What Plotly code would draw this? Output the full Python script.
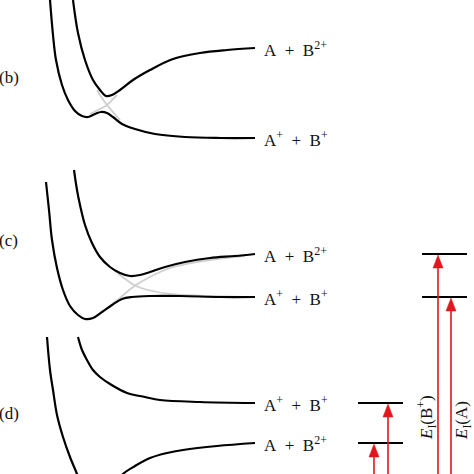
import plotly.graph_objects as go

# canvas units: x to the right, y downwards (energy grows upward on the page)
W = 474

# panel (b): adiabatic curves
b_inner_x = [73, 78, 85, 93, 100, 106, 112, 120, 133, 150, 173, 200, 227, 255]
b_inner_y = [0, 33, 60, 80, 90, 96, 95, 90, 80, 70, 59, 53, 50, 48]
b_outer_x = [50, 53, 56, 62, 68, 75, 82, 88, 95, 101, 107, 113, 122, 135, 155, 185, 220, 255]
b_outer_y = [0, 35, 60, 85, 100, 111, 116, 117, 114, 112, 113, 117, 124, 129, 134, 137, 138, 138]
# panel (b): diabatic (grey) crossing
b_grey1_x = [97, 102, 107, 113, 120]
b_grey1_y = [90, 98, 105, 112, 120]
b_grey2_x = [90, 98, 107, 113, 117]
b_grey2_y = [114, 110, 105, 99, 95]

# panel (c)
c_inner_x = [74, 77, 80, 85, 92, 100, 110, 120, 130, 140, 150, 165, 185, 210, 235, 255]
c_inner_y = [170, 190, 205, 225, 243, 257, 267, 273, 276, 275, 272, 267, 262, 258, 256, 254]
c_outer_x = [46, 49, 52, 57, 63, 70, 78, 85, 93, 102, 112, 122, 132, 150, 180, 220, 255]
c_outer_y = [182, 210, 240, 268, 290, 306, 315, 319, 318, 312, 305, 299, 297, 296, 296, 297, 297]
c_grey1_x = [112, 120, 128, 136, 148, 170, 210, 245]
c_grey1_y = [268, 275, 281, 286, 290, 294, 296, 297]
c_grey2_x = [112, 120, 128, 136, 148, 170, 210, 245]
c_grey2_y = [304, 298, 291, 285, 278, 268, 260, 256]

# panel (d)
d_inner_x = [78, 82, 87, 93, 100, 110, 127, 145, 160, 200, 255]
d_inner_y = [337, 350, 360, 370, 377, 384, 393, 397, 400, 402, 403]
d_outer_x = [47, 50, 53, 57, 63, 70, 77, 80]
d_outer_y = [337, 370, 390, 415, 437, 457, 474, 482]
d_lower_x = [118, 123, 135, 150, 167, 183, 217, 255]
d_lower_y = [482, 474, 466, 458, 453, 450, 446, 443]

# asymptote labels (y of the line they sit on)
asym_text = ["A\u2002+\u2002B<sup>2+</sup>", "A<sup>+</sup>\u2002+\u2002B<sup>+</sup>",
             "A\u2002+\u2002B<sup>2+</sup>", "A<sup>+</sup>\u2002+\u2002B<sup>+</sup>",
             "A<sup>+</sup>\u2002+\u2002B<sup>+</sup>", "A\u2002+\u2002B<sup>2+</sup>"]
asym_y = [48, 138, 254, 297, 403, 443]
panel_text = ["(b)", "(c)", "(d)"]
panel_y = [77, 240, 413]

# energy level diagrams on the right
levels_x0 = [422, 422, 358, 358]
levels_x1 = [467, 467, 403, 403]
levels_y = [254, 297, 403, 443]
arrow_x = [438, 451, 388, 374]
arrow_top = [254, 297, 403, 443]

BLACK = "#000000"
GREY = "#cfcfcf"
RED = "#e3161d"

fig = go.Figure()


def curve(x, y, color, width):
    fig.add_trace(go.Scatter(x=x, y=y, mode="lines", hoverinfo="skip",
                             line=dict(color=color, width=width, shape="spline", smoothing=1.0)))


for gx, gy in [(b_grey1_x, b_grey1_y), (b_grey2_x, b_grey2_y),
               (c_grey1_x, c_grey1_y), (c_grey2_x, c_grey2_y)]:
    curve(gx, gy, GREY, 1.8)
for kx, ky in [(b_inner_x, b_inner_y), (b_outer_x, b_outer_y),
               (c_inner_x, c_inner_y), (c_outer_x, c_outer_y),
               (d_inner_x, d_inner_y), (d_outer_x, d_outer_y), (d_lower_x, d_lower_y)]:
    curve(kx, ky, BLACK, 2.2)

for x0, x1, y in zip(levels_x0, levels_x1, levels_y):
    fig.add_trace(go.Scatter(x=[x0, x1], y=[y, y], mode="lines", hoverinfo="skip",
                             line=dict(color=BLACK, width=2)))

head_w, head_l = 5, 13
for x, top in zip(arrow_x, arrow_top):
    tip = top + 1
    fig.add_trace(go.Scatter(x=[x, x], y=[W + 5, tip + 5], mode="lines", hoverinfo="skip",
                             line=dict(color=RED, width=1.6)))
    fig.add_trace(go.Scatter(x=[x - head_w, x + head_w, x, x - head_w],
                             y=[tip + head_l, tip + head_l, tip, tip + head_l],
                             mode="lines", fill="toself", fillcolor=RED, hoverinfo="skip",
                             line=dict(color=RED, width=0.5)))

font = dict(family="Liberation Serif, DejaVu Serif, serif", size=17, color="#111111")
for t, y in zip(asym_text, asym_y):
    fig.add_annotation(x=262, y=y + 1, text=t, showarrow=False, xanchor="left",
                       yanchor="middle", font=font)
for t, y in zip(panel_text, panel_y):
    fig.add_annotation(x=0, y=y, text=t, showarrow=False, xanchor="left",
                       yanchor="middle", font=font, xshift=-3)
fig.add_annotation(x=426, y=418, text="<i>E</i><sub>I</sub>(B<sup>+</sup>)", showarrow=False,
                   textangle=-90, font=font)
fig.add_annotation(x=463, y=421, text="<i>E</i><sub>I</sub>(A)", showarrow=False,
                   textangle=-90, font=font)

fig.update_layout(
    width=W, height=W, showlegend=False,
    paper_bgcolor="white", plot_bgcolor="white",
    margin=dict(l=0, r=0, t=0, b=0),
    xaxis=dict(range=[0, W], visible=False, fixedrange=True),
    yaxis=dict(range=[W, 0], visible=False, fixedrange=True),
)
# the page's default body margin would push the figure 8px in; drop it
fig.write_html("out.html", config=dict(displayModeBar=False),
               post_script="document.body.style.margin='0px';document.body.style.overflow='hidden';")
